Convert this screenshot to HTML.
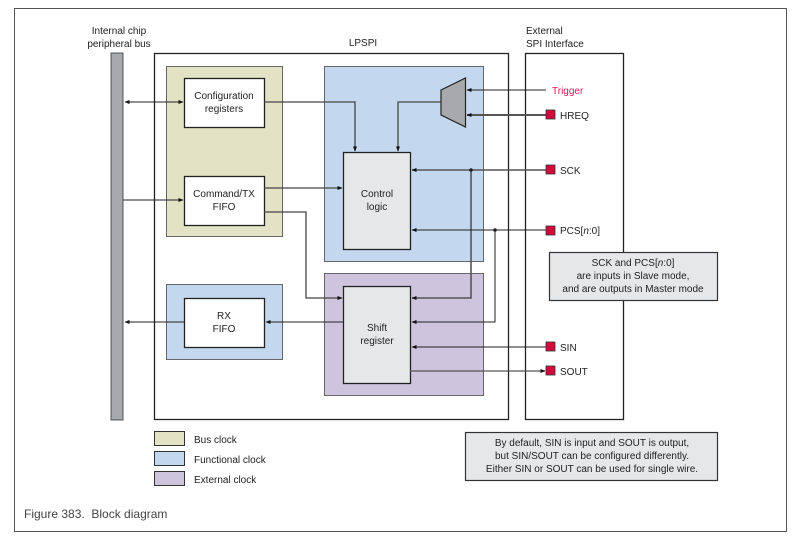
<!DOCTYPE html>
<html><head><meta charset="utf-8"><style>
html,body{margin:0;padding:0;background:#fff}
svg{display:block;font-family:"Liberation Sans",Arial,sans-serif}
</style></head><body>
<svg width="793" height="537" viewBox="0 0 793 537" xmlns="http://www.w3.org/2000/svg">
<defs>
<marker id="a" viewBox="0 0 10 10" refX="9" refY="5" markerWidth="5" markerHeight="5" markerUnits="userSpaceOnUse" orient="auto-start-reverse"><path d="M0,1 L10,5 L0,9 z" fill="#111"/></marker>
</defs>
<rect x="14.5" y="8.5" width="772" height="523" fill="#fff" stroke="#555" stroke-width="1"/>
<text x="119" y="34" font-size="10" text-anchor="middle" fill="#222">Internal chip</text>
<text x="119" y="47" font-size="10" text-anchor="middle" fill="#222">peripheral bus</text>
<rect x="111" y="53" width="12" height="367" fill="#a7a9ac" stroke="#333" stroke-width="0.8"/>
<text x="363" y="46" font-size="10" text-anchor="middle" fill="#222">LPSPI</text>
<rect x="154.5" y="53.5" width="354" height="366" fill="#fff" stroke="#222" stroke-width="1.3"/>
<text x="526" y="34" font-size="10" fill="#222">External</text>
<text x="526" y="47" font-size="10" fill="#222">SPI Interface</text>
<rect x="525.5" y="53.5" width="98" height="366" fill="#fff" stroke="#222" stroke-width="1.3"/>
<rect x="166.5" y="66.5" width="116" height="170" fill="#e2e2c5" stroke="#666"/>
<rect x="324.5" y="66.5" width="159" height="195" fill="#c3d8ef" stroke="#666"/>
<rect x="324.5" y="273.5" width="159" height="122" fill="#cfc4de" stroke="#666"/>
<rect x="166.5" y="284.5" width="116" height="75" fill="#c3d8ef" stroke="#666"/>
<rect x="184.5" y="78.5" width="80" height="49" fill="#fff" stroke="#222" stroke-width="1.3"/>
<text x="224" y="99" font-size="10" text-anchor="middle" fill="#222">Configuration</text>
<text x="224" y="112" font-size="10" text-anchor="middle" fill="#222">registers</text>
<rect x="184.5" y="176.5" width="80" height="49" fill="#fff" stroke="#222" stroke-width="1.3"/>
<text x="224" y="197" font-size="10" text-anchor="middle" fill="#222">Command/TX</text>
<text x="224" y="210" font-size="10" text-anchor="middle" fill="#222">FIFO</text>
<rect x="184.5" y="298.5" width="80" height="49" fill="#fff" stroke="#222" stroke-width="1.3"/>
<text x="224" y="319" font-size="10" text-anchor="middle" fill="#222">RX</text>
<text x="224" y="332" font-size="10" text-anchor="middle" fill="#222">FIFO</text>
<rect x="343.5" y="152.5" width="67" height="97" fill="#e6e7e8" stroke="#222" stroke-width="1.3"/>
<text x="377" y="197" font-size="10" text-anchor="middle" fill="#222">Control</text>
<text x="377" y="210" font-size="10" text-anchor="middle" fill="#222">logic</text>
<rect x="343.5" y="286.5" width="67" height="97" fill="#e6e7e8" stroke="#222" stroke-width="1.3"/>
<text x="377" y="331" font-size="10" text-anchor="middle" fill="#222">Shift</text>
<text x="377" y="344" font-size="10" text-anchor="middle" fill="#222">register</text>
<polygon points="441,90 465.5,78 465.5,127 441,115" fill="#a7a9ac" stroke="#222" stroke-width="1.2"/>
<g fill="none" stroke="#222" stroke-width="1">
<line x1="125" y1="102" x2="183" y2="102" marker-start="url(#a)" marker-end="url(#a)"/>
<line x1="123" y1="200" x2="183" y2="200" marker-end="url(#a)"/>
<polyline points="264,102 355,102 355,151" stroke="#444" stroke-width="1.3" marker-end="url(#a)"/>
<polyline points="441,102 398,102 398,151" stroke="#444" stroke-width="1.3" marker-end="url(#a)"/>
<line x1="264" y1="188" x2="342" y2="188" stroke="#444" stroke-width="1.3" marker-end="url(#a)"/>
<polyline points="264,212 306,212 306,298 342,298" stroke="#444" stroke-width="1.3" marker-end="url(#a)"/>
<line x1="546" y1="90" x2="467" y2="90" marker-end="url(#a)"/>
<line x1="546" y1="115" x2="467" y2="115" stroke="#555" stroke-width="2" marker-end="url(#a)"/>
<line x1="546" y1="170" x2="412" y2="170" stroke="#555" stroke-width="1.6" marker-end="url(#a)"/>
<polyline points="471,170 471,298 412,298" stroke="#555" stroke-width="1.6" marker-end="url(#a)"/>
<line x1="546" y1="230" x2="412" y2="230" marker-end="url(#a)"/>
<polyline points="495,230 495,322 412,322" marker-end="url(#a)"/>
<line x1="546" y1="347" x2="412" y2="347" marker-end="url(#a)"/>
<line x1="410" y1="371" x2="545" y2="371" stroke="#555" stroke-width="1.3" marker-end="url(#a)"/>
<line x1="343" y1="322" x2="266" y2="322" marker-end="url(#a)"/>
<line x1="184" y1="322" x2="125" y2="322" marker-end="url(#a)"/>
</g>
<circle cx="471" cy="170" r="1.8" fill="#222"/>
<circle cx="495" cy="230" r="1.8" fill="#222"/>
<g fill="#d6083b" stroke="#333" stroke-width="0.8">
<rect x="546" y="110" width="9" height="9"/>
<rect x="546" y="165" width="9" height="9"/>
<rect x="546" y="226" width="9" height="9"/>
<rect x="546" y="342" width="9" height="9"/>
<rect x="546" y="366" width="9" height="9"/>
</g>
<text x="552" y="94" font-size="10" fill="#e2185a">Trigger</text>
<g font-size="10" fill="#222">
<text x="560" y="119">HREQ</text>
<text x="560" y="174">SCK</text>
<text x="560" y="234">PCS[<tspan font-style="italic">n</tspan>:0]</text>
<text x="560" y="351">SIN</text>
<text x="560" y="375">SOUT</text>
</g>
<rect x="549.5" y="252.5" width="168" height="48" fill="#e6e7e8" stroke="#333" stroke-width="1.2"/>
<g font-size="10" fill="#222" text-anchor="middle">
<text x="633" y="266">SCK and PCS[<tspan font-style="italic">n</tspan>:0]</text>
<text x="633" y="279">are inputs in Slave mode,</text>
<text x="633" y="292">and are outputs in Master mode</text>
</g>
<rect x="465.5" y="432.5" width="252" height="48" fill="#e6e7e8" stroke="#333" stroke-width="1.2"/>
<g font-size="10" fill="#222" text-anchor="middle">
<text x="592" y="446">By default, SIN is input and SOUT is output,</text>
<text x="592" y="459">but SIN/SOUT can be configured differently.</text>
<text x="592" y="472">Either SIN or SOUT can be used for single wire.</text>
</g>
<rect x="154.5" y="431.5" width="30" height="14" fill="#e2e2c5" stroke="#333"/>
<rect x="154.5" y="451.5" width="30" height="14" fill="#c3d8ef" stroke="#333"/>
<rect x="154.5" y="471.5" width="30" height="14" fill="#cfc4de" stroke="#333"/>
<g font-size="10" fill="#222">
<text x="194" y="443">Bus clock</text>
<text x="194" y="463">Functional clock</text>
<text x="194" y="483">External clock</text>
</g>
<text x="24" y="518" font-size="12" fill="#444">Figure 383.&#160; Block diagram</text>
</svg>
</body></html>
